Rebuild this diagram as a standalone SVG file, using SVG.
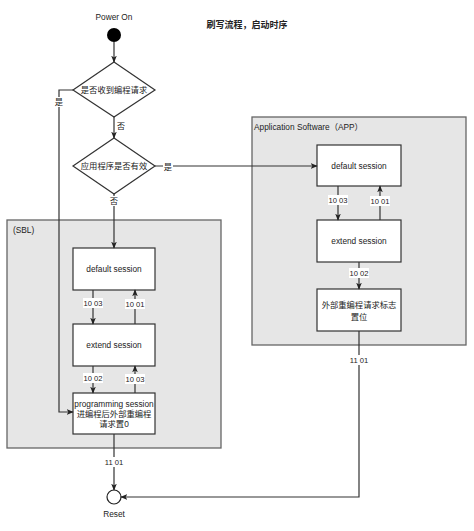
<svg xmlns="http://www.w3.org/2000/svg" width="474" height="531" viewBox="0 0 474 531">
<style>
text{font-family:"Liberation Sans","Noto Sans CJK SC",sans-serif;font-size:8.3px;fill:#222;text-anchor:middle;dominant-baseline:central}
.lbl{font-size:7.6px}
.c{fill:#e6e6e6;stroke:#666;stroke-width:1.3}
.b{fill:#fff;stroke:#333;stroke-width:1.2}
.e{fill:none;stroke:#333;stroke-width:1.2}
.bg{fill:#fff}
</style>
<defs>
<marker id="a" viewBox="0 0 10 10" refX="9" refY="5" markerWidth="7" markerHeight="7" orient="auto" markerUnits="userSpaceOnUse">
<path d="M0,1 L10,5 L0,9 L2.5,5 Z" fill="#222"/>
</marker>
</defs>
<rect width="474" height="531" fill="#fff"/>
<text x="247" y="25" style="font-weight:bold;font-size:9px">刷写流程，启动时序</text>
<g id="sbl"><rect class="c" x="7" y="220" width="214" height="228"/><text x="13" y="230" style="text-anchor:start">(SBL)</text></g>
<g id="app"><rect class="c" x="252" y="117" width="214" height="228"/><text x="254" y="127" style="text-anchor:start">Application Software（APP）</text></g>
<g id="start"><text x="114" y="17">Power On</text><circle cx="114" cy="35" r="7" fill="#000"/></g>
<g id="d1"><path class="b" d="M114,62 L155,90 L114,117 L73,90 Z"/><text x="114" y="90">是否收到编程请求</text></g>
<g id="d2"><path class="b" d="M114,138 L155,166 L114,194 L73,166 Z"/><text x="114" y="166">应用程序是否有效</text></g>
<g id="sbl-default"><rect class="b" x="73" y="248" width="82" height="42"/><text x="114" y="269">default session</text></g>
<g id="sbl-extend"><rect class="b" x="73" y="324" width="82" height="42"/><text x="114" y="345">extend session</text></g>
<g id="sbl-prog"><rect class="b" x="73" y="393" width="82" height="41"/><text x="114" y="404">programming session</text><text x="114" y="414">进编程后外部重编程</text><text x="114" y="424">请求置0</text></g>
<g id="app-default"><rect class="b" x="317" y="145" width="84" height="41"/><text x="359" y="166">default session</text></g>
<g id="app-extend"><rect class="b" x="317" y="220" width="84" height="42"/><text x="359" y="241">extend session</text></g>
<g id="app-flag"><rect class="b" x="317" y="289" width="84" height="42"/><text x="359" y="305">外部重编程请求标志</text><text x="359" y="317">置位</text></g>
<g id="reset"><circle cx="114" cy="497" r="7" fill="#fff" stroke="#222" stroke-width="1.2"/><text x="114" y="514">Reset</text></g>
<g id="edges">
<path class="e" d="M114,42 V62" marker-end="url(#a)"/>
<path class="e" d="M114,117 V138" marker-end="url(#a)"/>
<path class="e" d="M73,90 H59 V412 H73" marker-end="url(#a)"/>
<path class="e" d="M155,166 H317" marker-end="url(#a)"/>
<path class="e" d="M114,194 V248" marker-end="url(#a)"/>
<path class="e" d="M93,290 V324" marker-end="url(#a)"/>
<path class="e" d="M135,324 V290" marker-end="url(#a)"/>
<path class="e" d="M93,366 V393" marker-end="url(#a)"/>
<path class="e" d="M135,393 V366" marker-end="url(#a)"/>
<path class="e" d="M114,434 V490" marker-end="url(#a)"/>
<path class="e" d="M338,186 V220" marker-end="url(#a)"/>
<path class="e" d="M380,220 V186" marker-end="url(#a)"/>
<path class="e" d="M359,262 V289" marker-end="url(#a)"/>
<path class="e" d="M359,331 V497 H121" marker-end="url(#a)"/>
<rect class="bg" x="54" y="97" width="10" height="10"/><text x="59" y="102">是</text>
<rect class="bg" x="116" y="121" width="10" height="10"/><text x="121" y="126">否</text>
<rect class="bg" x="163" y="162" width="10" height="10"/><text x="168" y="167">是</text>
<rect class="bg" x="109" y="196" width="10" height="10"/><text x="114" y="201">否</text>
<rect class="bg" x="83" y="298" width="20" height="10"/><text class="lbl" x="93" y="303">10 03</text>
<rect class="bg" x="125" y="299" width="20" height="10"/><text class="lbl" x="135" y="304">10 01</text>
<rect class="bg" x="83" y="373" width="20" height="10"/><text class="lbl" x="93" y="378">10 02</text>
<rect class="bg" x="125" y="374" width="20" height="10"/><text class="lbl" x="135" y="379">10 03</text>
<rect class="bg" x="104" y="457" width="20" height="10"/><text class="lbl" x="114" y="462">11 01</text>
<rect class="bg" x="328" y="195" width="20" height="10"/><text class="lbl" x="338" y="200">10 03</text>
<rect class="bg" x="370" y="196" width="20" height="10"/><text class="lbl" x="380" y="201">10 01</text>
<rect class="bg" x="349" y="268" width="20" height="10"/><text class="lbl" x="359" y="273">10 02</text>
<rect class="bg" x="349" y="355" width="20" height="10"/><text class="lbl" x="359" y="360">11 01</text>
</g>
</svg>
